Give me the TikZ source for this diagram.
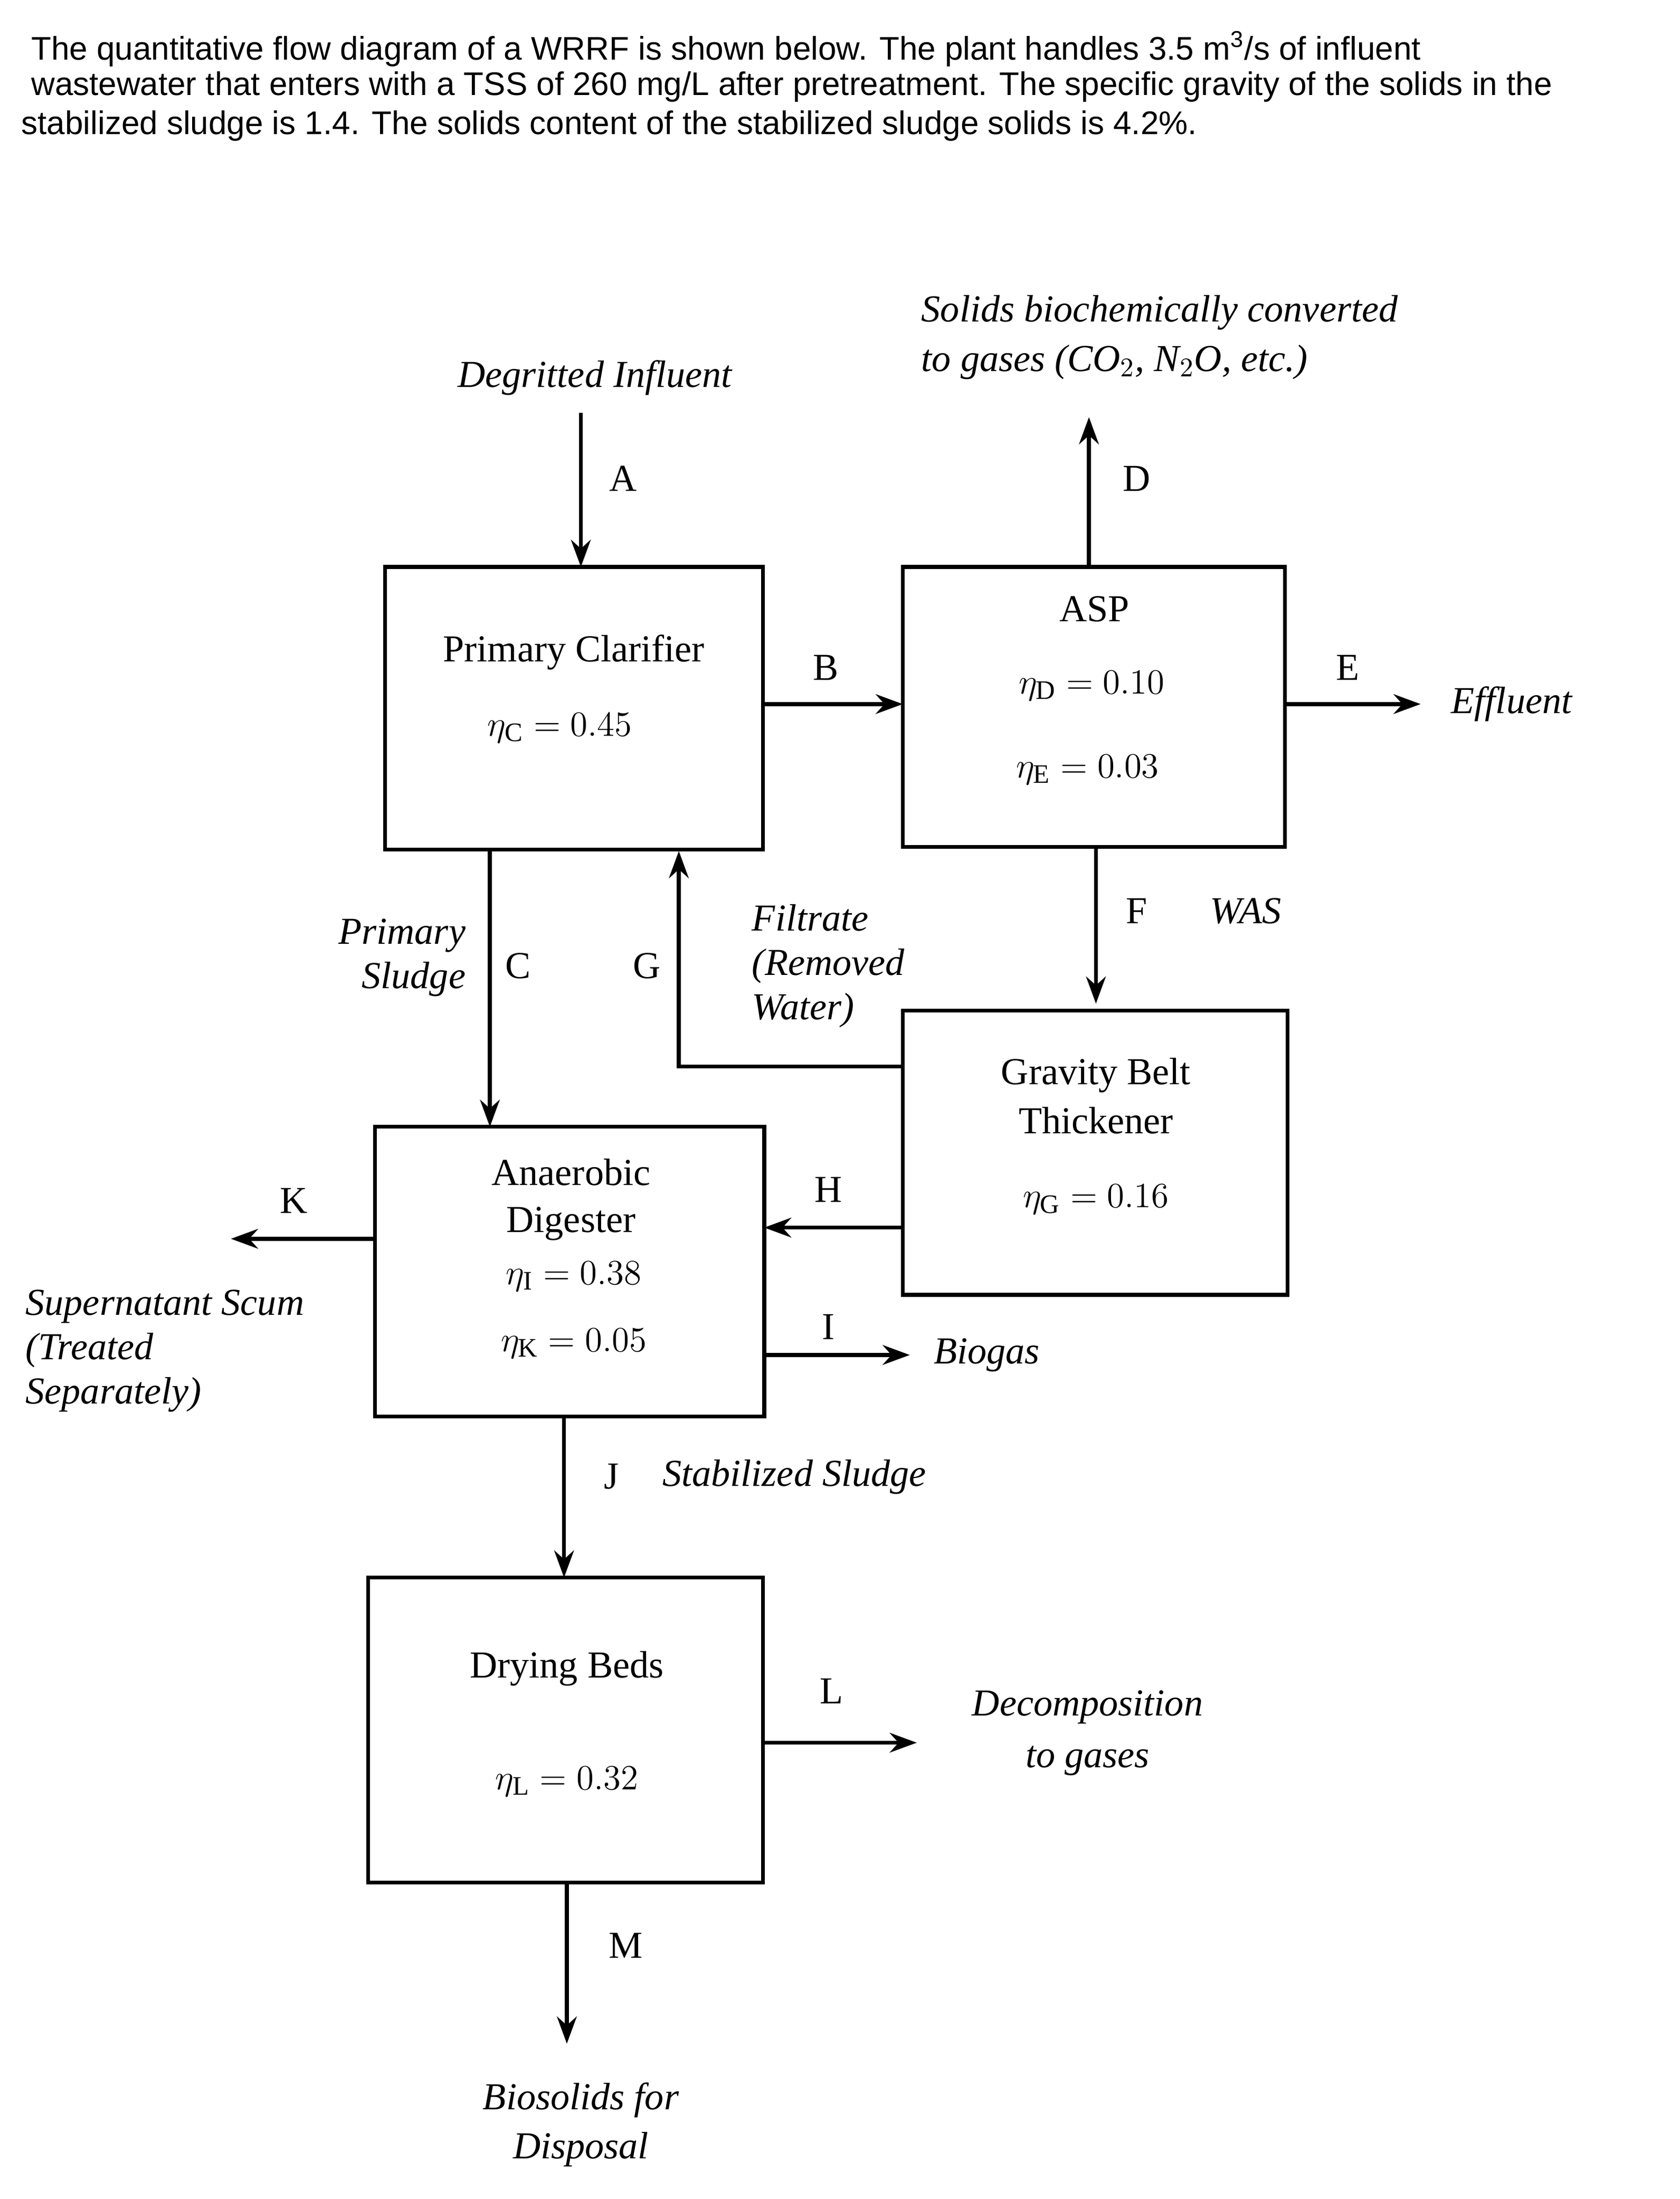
\documentclass[tikz,border=0pt]{standalone}
\usepackage{fontspec}
\setmainfont{Liberation Serif}
\newfontfamily\titlefont{Liberation Sans}
\usetikzlibrary{arrows.meta}
\begin{document}
\begin{tikzpicture}[x=0.02cm,y=-0.02cm,
  box/.style={draw,line width=1.6pt},
  flow/.style={line width=1.6pt,-{Stealth[length=11pt,width=8pt]}},
  lbl/.style={font=\fontsize{15.5}{18}\selectfont},
  it/.style={font=\fontsize{15.5}{19}\selectfont\itshape,align=left},
  tt/.style={font=\titlefont\fontsize{13.3}{14.5}\selectfont,anchor=west,inner sep=0}]
\useasboundingbox (0,0) rectangle (1200,1571);
\node[tt] (t1) at (22,35) {The quantitative flow diagram of a WRRF is shown below. The plant handles 3.5 m\textsuperscript{3}/s of influent};
\node[tt] (t2) at (22,62) {wastewater that enters with a TSS of 260 mg/L after pretreatment. The specific gravity of the solids in the};
\node[tt] (t3) at (15,90) {stabilized sludge is 1.4. The solids content of the stabilized sludge solids is 4.2\%.};
% boxes
\draw[box] (275,405) rectangle (545,607);
\draw[box] (645,405) rectangle (918,605);
\draw[box] (645,722) rectangle (920,925);
\draw[box] (268,805) rectangle (546,1012);
\draw[box] (263,1127) rectangle (545,1345);
% box texts
\node[lbl] (pc) at (410,466) {Primary Clarifier};
\node[lbl] (pc2) at (400,520) {$\eta_{\mathrm{C}}=0.45$};
\node[lbl] (asp) at (782,435) {ASP};
\node[lbl] (asp2) at (780,490) {$\eta_{\mathrm{D}}=0.10$};
\node[lbl] (asp3) at (777,550) {$\eta_{\mathrm{E}}=0.03$};
\node[lbl,align=center] (gbt) at (783,783) {Gravity Belt\\[2pt]Thickener};
\node[lbl] (gbt2) at (783,857) {$\eta_{\mathrm{G}}=0.16$};
\node[lbl,align=center] (ad) at (408,857) {Anaerobic\\[1pt]Digester};
\node[lbl] (ad2) at (410,912) {$\eta_{\mathrm{I}}=0.38$};
\node[lbl] (ad3) at (410,960) {$\eta_{\mathrm{K}}=0.05$};
\node[lbl] (db) at (405,1192) {Drying Beds};
\node[lbl] (db2) at (405,1273) {$\eta_{\mathrm{L}}=0.32$};
% coordinates
\coordinate (a0) at (415,295); \coordinate (a1) at (415,405);
\coordinate (b0) at (545,503); \coordinate (b1) at (645,503);
\coordinate (d0) at (778,405); \coordinate (d1) at (778,298);
\coordinate (e0) at (918,503); \coordinate (e1) at (1015,503);
\coordinate (f0) at (783,605); \coordinate (f1) at (783,717);
\coordinate (g0) at (645,762); \coordinate (g1) at (485,762); \coordinate (g2) at (485,608);
\coordinate (c0) at (350,607); \coordinate (c1) at (350,805);
\coordinate (h0) at (645,877); \coordinate (h1) at (546,877);
\coordinate (k0) at (268,885); \coordinate (k1) at (165,885);
\coordinate (i0) at (546,968); \coordinate (i1) at (650,968);
\coordinate (j0) at (403,1012); \coordinate (j1) at (403,1127);
\coordinate (l0) at (545,1245); \coordinate (l1) at (655,1245);
\coordinate (m0) at (405,1345); \coordinate (m1) at (405,1460);
\draw[flow] (a0)--(a1);
\draw[flow] (b0)--(b1);
\draw[flow] (d0)--(d1);
\draw[flow] (e0)--(e1);
\draw[flow] (f0)--(f1);
\draw[flow] (g0)--(g1)--(g2);
\draw[flow] (c0)--(c1);
\draw[flow] (h0)--(h1);
\draw[flow] (k0)--(k1);
\draw[flow] (i0)--(i1);
\draw[flow] (j0)--(j1);
\draw[flow] (l0)--(l1);
\draw[flow] (m0)--(m1);
% labels
\node[lbl] (la) at (445,342) {A};
\node[lbl] (lb) at (590,477) {B};
\node[lbl] (lc) at (370,690) {C};
\node[lbl] (ld) at (812,342) {D};
\node[lbl] (le) at (963,477) {E};
\node[lbl] (lf) at (812,651) {F};
\node[lbl] (lg) at (462,690) {G};
\node[lbl] (lh) at (592,850) {H};
\node[lbl] (li) at (592,948) {I};
\node[lbl] (lj) at (437,1055) {J};
\node[lbl] (lk) at (210,858) {K};
\node[lbl] (ll) at (594,1208) {L};
\node[lbl] (lm) at (447,1390) {M};
\node[it] (t_deg) at (425,270) {Degritted Influent};
\node[it,anchor=west,inner sep=0] (t_sol) at (658,241) {Solids biochemically converted\\[1pt]to gases (CO$_2$, N$_2$O, etc.)};
\node[it] (t_eff) at (1080,503) {Effluent};
\node[it] (t_was) at (890,651) {WAS};
\node[it,anchor=west,inner sep=0] (t_fil) at (537,690) {Filtrate\\[-1pt](Removed\\[-1pt]Water)};
\node[it,align=right,anchor=east,inner sep=0] (t_ps) at (333,684) {Primary\\[-1pt]Sludge};
\node[it,anchor=west,inner sep=0] (t_sup) at (18,965) {Supernatant Scum\\[-1pt](Treated\\[-1pt]Separately)};
\node[it] (t_bio) at (705,968) {Biogas};
\node[it,anchor=west,inner sep=0] (t_stab) at (473,1055) {Stabilized Sludge};
\node[it,align=center] (t_dec) at (777,1238) {Decomposition\\[2pt]to gases};
\node[it,align=center] (t_bs) at (415,1518) {Biosolids for\\[1pt]Disposal};
\end{tikzpicture}
\end{document}
